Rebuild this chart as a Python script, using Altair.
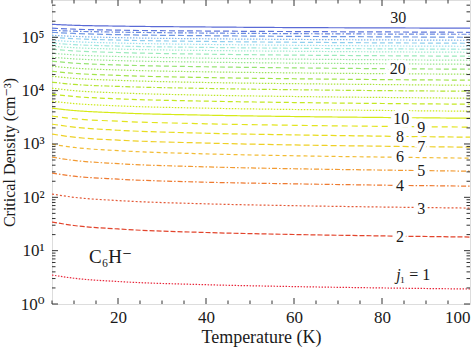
import altair as alt
import pandas as pd

# ---------------- data ----------------
temps = [5, 10, 20, 40, 60, 80, 100]
levels = list(range(1, 31))  # j1 = 1 ... 30

n_T5 = [3.49, 34.4, 115, 284, 566, 991, 1530, 2350, 3320, 4680, 6320, 8570, 11100, 14400, 18600,
        23100, 28600, 35600, 42200, 50100, 59600, 67800, 77300, 87900, 100000, 109000, 124000,
        135000, 148000, 175000]
n_T10 = [3.04, 29.6, 100, 249, 492, 861, 1340, 2070, 2970, 4240, 5730, 7760, 10000, 13100, 17000,
         21100, 26400, 32800, 39400, 46800, 55600, 63800, 72800, 82800, 94200, 104000, 118000,
         130000, 142000, 168000]
n_T20 = [2.64, 25.5, 86.9, 219, 428, 750, 1180, 1810, 2670, 3830, 5180, 7020, 9080, 12000, 15600,
         19300, 24400, 30300, 36600, 43600, 51800, 60100, 68500, 78000, 88700, 98600, 112000,
         125000, 136000, 162000]
n_T40 = [2.30, 21.9, 75.5, 192, 372, 652, 1040, 1590, 2390, 3470, 4690, 6350, 8220, 11000, 14200,
         17600, 22500, 28000, 34200, 40600, 48300, 56600, 64600, 73500, 83600, 93800, 107000,
         120000, 131000, 156000]
n_T60 = [2.12, 20.1, 69.7, 179, 343, 601, 959, 1480, 2240, 3270, 4430, 5980, 7760, 10400, 13500,
         16700, 21500, 26700, 32800, 39000, 46300, 54700, 62200, 70800, 80700, 91200, 104000,
         117000, 128000, 152000]
n_T80 = [2.00, 18.9, 65.8, 169, 324, 568, 908, 1400, 2140, 3140, 4250, 5740, 7450, 10000, 13000,
         16100, 20800, 25800, 31900, 37900, 45100, 53300, 60700, 69000, 78700, 89300, 102000,
         115000, 126000, 150000]
n_T100 = [1.91, 18.0, 62.8, 162, 309, 542, 871, 1340, 2070, 3040, 4110, 5560, 7210, 9750, 12600,
          15700, 20300, 25200, 31200, 37100, 44100, 52400, 59600, 67800, 77300, 87900, 100000,
          114000, 124000, 148000]

label_text = ["30", "20", "10", "9", "8", "7", "6", "5", "4", "3", "2"]
label_T = [83.7, 83.6, 84.4, 88.9, 84.1, 88.9, 84.1, 88.9, 84.1, 88.9, 84.1]
label_n = [2.33e5, 2.58e4, 2940, 1950, 1350, 859, 558, 305, 160, 61.7, 18.0]

j1_T = [86.3]
j1_n = [3.5]
species_T = [18.3]
species_n = [7.45]
species_text = ["C\u2086H\u207b"]

x_label_values = [20, 40, 60, 80, 100]
y_label_values = [1, 10, 100, 1000, 10000, 100000]
x_major_ticks = [20, 40, 60, 80]
x_minor_ticks = [5, 10, 15, 25, 30, 35, 45, 50, 55, 65, 70, 75, 85, 90, 95]
y_minor_ticks = [m * 10 ** e for e in range(6) for m in range(2, 10) if m * 10 ** e < 5e5]

# ---------------- styles ----------------
colors = ["#e8283c", "#e2442c", "#e45a38", "#ee7a30", "#f29a32", "#f2bc34", "#eed026", "#e8dc1e",
          "#e2e41e", "#d6ea18", "#cdea1c", "#c4e822", "#bce628", "#b4e432", "#aae43c", "#a2e44c",
          "#9ce45e", "#98e474", "#98e68c", "#9ae8a4", "#9ceabc", "#a0eace", "#a0e8de", "#9ce0ec",
          "#90cfee", "#80b6ea", "#7098e4", "#6888e0", "#6078dc", "#5a6ad6"]
DOT = [1.5, 1.5]
DASH = [5, 3]
LDASH = [6, 3]
DD = [5, 2, 1.5, 2]
SOLID = [1, 0]
dashes = [DOT, [5, 2], [2, 2], DD, DD, [4, 3], LDASH, LDASH, [6, 4], SOLID,
          DOT, DASH, DOT, DD, DOT, DASH, DOT, DASH, DOT, DOT,
          DASH, DOT, DD, DOT, DASH, DOT, LDASH, DD, LDASH, SOLID]

FONT = "'Liberation Serif', 'Times New Roman', 'DejaVu Serif', serif"
INK = "#1a1a1a"
FS = 17

# ---------------- tables ----------------
cols = [n_T5, n_T10, n_T20, n_T40, n_T60, n_T80, n_T100]
rows = []
for ti, T in enumerate(temps):
    for ji, j in enumerate(levels):
        rows.append({"T": T, "n": cols[ti][ji], "j": str(j)})
df = pd.DataFrame(rows)
jdom = [str(j) for j in levels]

labels_df = pd.DataFrame({"T": label_T, "n": label_n, "t": label_text})
j1_df = pd.DataFrame({"T": j1_T, "n": j1_n})
sp_df = pd.DataFrame({"T": species_T, "n": species_n, "t": species_text})

xscale = alt.Scale(domain=[5, 100], nice=False, zero=False)
yscale = alt.Scale(type="log", domain=[1, 5e5], nice=False)

sup = "{'1':'10\u2070','10':'10\u00b9','100':'10\u00b2','1000':'10\u00b3','10000':'10\u2074','100000':'10\u2075'}"

x_enc = alt.X("T:Q", scale=xscale,
              axis=alt.Axis(values=x_label_values, ticks=False, domain=False, grid=False,
                            labelFont=FONT, labelFontSize=FS, labelColor=INK, labelPadding=5,
                            title="Temperature (K)", titleFont=FONT, titleFontSize=18,
                            titleFontWeight="normal", titleColor=INK, titlePadding=3,
                            format="d"))
y_enc = alt.Y("n:Q", scale=yscale,
              axis=alt.Axis(values=y_label_values, ticks=False, domain=False, grid=False,
                            labelFont=FONT, labelFontSize=FS, labelColor=INK, labelPadding=8,
                            labelExpr=sup + "[''+datum.value]",
                            title="Critical Density (cm\u207b\u00b3)", titleFont=FONT,
                            titleFontSize=16, titleFontWeight="normal", titleColor=INK,
                            titleX=-38, titleY=152, titleAngle=-90, titleAlign="center",
                            titleBaseline="alphabetic"))

lines = alt.Chart(df).mark_line(strokeWidth=1.2, interpolate="monotone").encode(
    x=x_enc,
    y=y_enc,
    color=alt.Color("j:N", scale=alt.Scale(domain=jdom, range=colors), legend=None),
    strokeDash=alt.StrokeDash("j:N", scale=alt.Scale(domain=jdom, range=dashes), legend=None),
    detail="j:N",
)

halo = alt.Chart(labels_df).mark_text(font=FONT, fontSize=16, baseline="middle", align="center",
                                      stroke="white", strokeWidth=7, fill="white").encode(
    x=alt.X("T:Q", scale=xscale), y=alt.Y("n:Q", scale=yscale), text="t:N")
texts = alt.Chart(labels_df).mark_text(font=FONT, fontSize=16, baseline="middle", align="center",
                                       color=INK).encode(
    x=alt.X("T:Q", scale=xscale), y=alt.Y("n:Q", scale=yscale), text="t:N")

j_txt = alt.Chart(j1_df).mark_text(font=FONT, fontSize=16, fontStyle="italic", baseline="middle",
                                   align="right", color=INK, dx=-9, text="j").encode(
    x=alt.X("T:Q", scale=xscale), y=alt.Y("n:Q", scale=yscale))
j_rest = alt.Chart(j1_df).mark_text(font=FONT, fontSize=16, baseline="middle", align="left",
                                    color=INK, dx=-10, text="\u2081 = 1").encode(
    x=alt.X("T:Q", scale=xscale), y=alt.Y("n:Q", scale=yscale))

sp_txt = alt.Chart(sp_df).mark_text(font=FONT, fontSize=19, baseline="middle", align="center",
                                    color=INK).encode(
    x=alt.X("T:Q", scale=xscale), y=alt.Y("n:Q", scale=yscale), text="t:N")

TICK = "#333333"
xmaj = pd.DataFrame({"T": x_major_ticks})
xmin = pd.DataFrame({"T": x_minor_ticks})
ymaj = pd.DataFrame({"n": y_label_values})
ymin = pd.DataFrame({"n": y_minor_ticks})


def xt(d, y0, y1):
    return alt.Chart(d).mark_rule(color=TICK, strokeWidth=1).encode(
        x=alt.X("T:Q", scale=xscale), y=alt.value(y0), y2=alt.value(y1))


def yt(d, x0, x1):
    return alt.Chart(d).mark_rule(color=TICK, strokeWidth=1).encode(
        y=alt.Y("n:Q", scale=yscale), x=alt.value(x0), x2=alt.value(x1))


W, H = 418, 304
ticks = [
    xt(xmaj, H, H - 6), xt(xmin, H, H - 3.5), xt(xmaj, 0, 6), xt(xmin, 0, 3.5),
    yt(ymaj, 0, 6), yt(ymin, 0, 3.5), yt(ymaj, W, W - 6), yt(ymin, W, W - 3.5),
]

chart = alt.layer(lines, halo, texts, j_txt, j_rest, sp_txt, *ticks).properties(
    width=W, height=H,
    autosize=alt.AutoSizeParams(type="none"),
    padding={"left": 52, "top": 0, "right": 4, "bottom": 47},
).configure_view(stroke="#444444", strokeWidth=1).configure(background="white")

chart.save("out.html", embed_options={"renderer": "svg", "actions": False})
